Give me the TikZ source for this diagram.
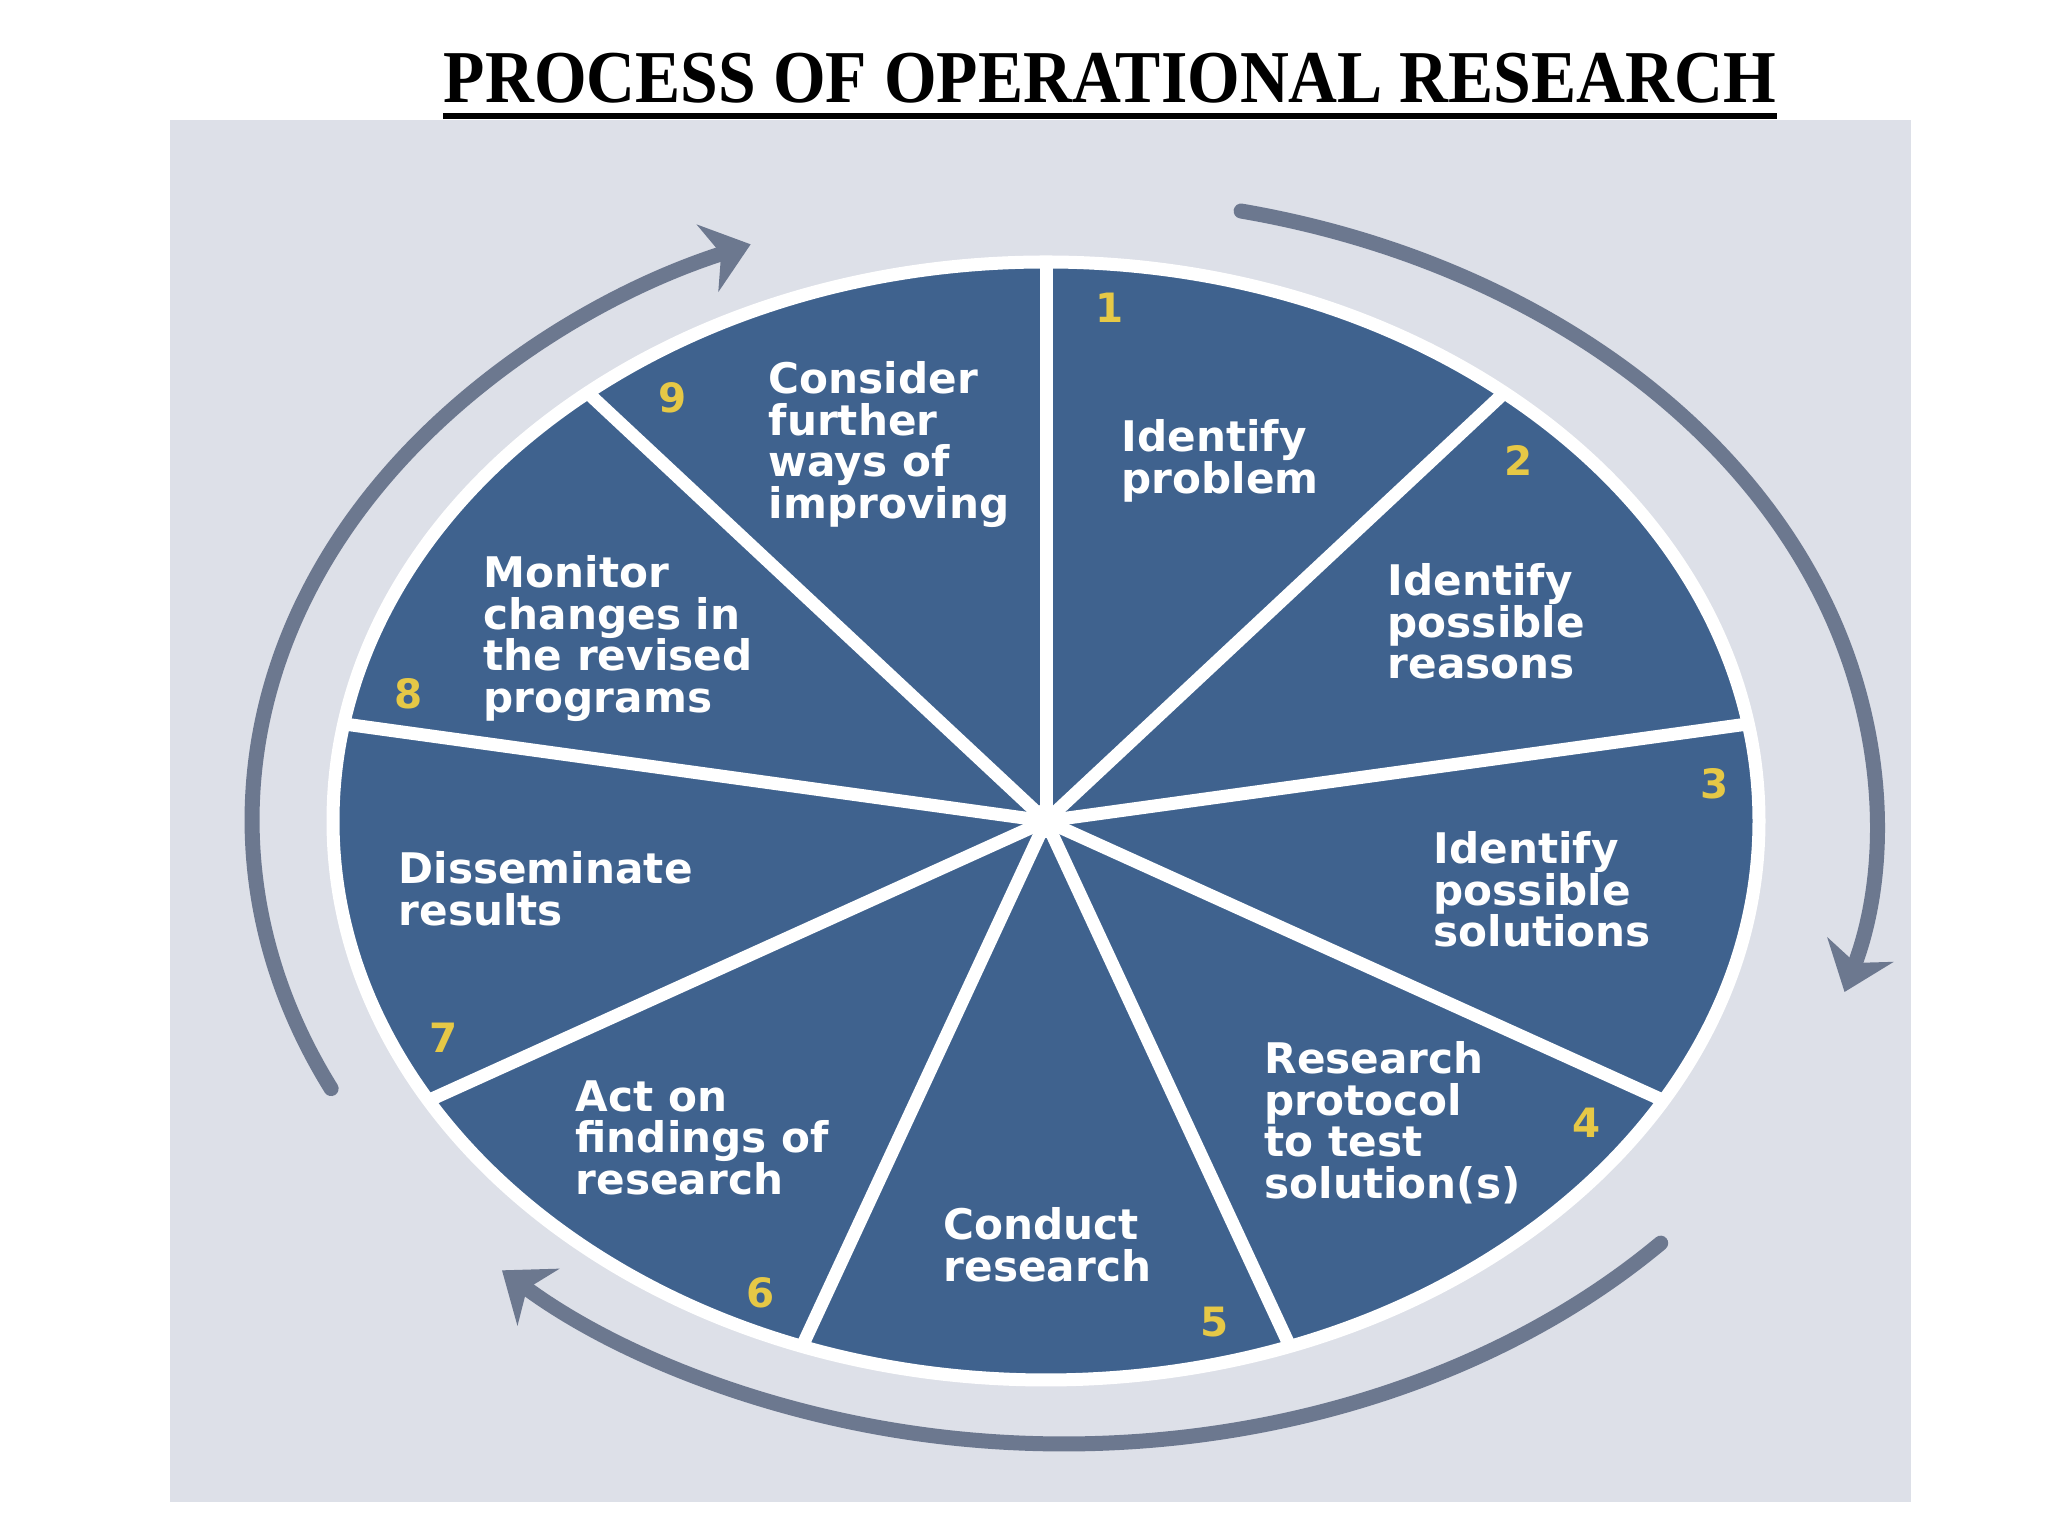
\documentclass[tikz,border=0pt]{standalone}
\usepackage{fontspec}
\usepackage{graphicx}
\setmainfont{Liberation Serif}
\newfontfamily\wheelfont{DejaVu Sans}
\usetikzlibrary{arrows.meta}
\definecolor{bggray}{RGB}{221,224,232}
\definecolor{wheelblue}{RGB}{63,98,142}
\definecolor{arcgray}{RGB}{108,120,143}
\definecolor{numyellow}{RGB}{230,200,70}

\begin{document}
\begin{tikzpicture}[
  steptext/.style={anchor=north west, align=left, inner sep=0pt, text=white,
    font=\wheelfont\bfseries\fontsize{12}{11.8}\selectfont},
  stepnum/.style={inner sep=0pt, text=numyellow,
    font=\wheelfont\bfseries\fontsize{11.5}{11.5}\selectfont},
  spoke/.style={draw=white, line width=0.13cm},
  turn/.style={draw=arcgray, line width=0.15cm, line cap=round,
    -{Stealth[length=0.45cm, width=0.7cm, inset=0.14cm]}}
]
  \useasboundingbox (0,0) rectangle (20.48,15.36);
  \fill [bggray] (1.70,0.34) rectangle (19.11,14.16);

  \node (title) at (11.10,14.33) [anchor=base, inner sep=0pt]
    {\fontsize{20.6}{24}\selectfont\bfseries\scalebox{0.935}[1.03]{PROCESS OF OPERATIONAL RESEARCH}};
  \draw [line width=1.5pt] ([yshift=-0.13cm]title.base west) -- ([yshift=-0.13cm]title.base east);

  % wheel
  \coordinate (hub) at (10.46,7.15);
  \coordinate (turnc) at (10.64,7.16);
  \draw [spoke, fill=wheelblue] (hub) ellipse [x radius=7.13, y radius=5.59];
  \draw [spoke] (hub) -- +(90:7.13 and 5.59);
  \draw [spoke] (hub) -- +(50:7.13 and 5.59);
  \draw [spoke] (hub) -- +(10:7.13 and 5.59);
  \draw [spoke] (hub) -- +(-30:7.13 and 5.59);
  \draw [spoke] (hub) -- +(-70:7.13 and 5.59);
  \draw [spoke] (hub) -- +(-110:7.13 and 5.59);
  \draw [spoke] (hub) -- +(-150:7.13 and 5.59);
  \draw [spoke] (hub) -- +(170:7.13 and 5.59);
  \draw [spoke] (hub) -- +(130:7.13 and 5.59);
  \fill [white] (hub) circle (0.17);

  % arrows round the wheel
  \draw [turn] (turnc) ++(77.4:8.12 and 6.24)
    arc [start angle=77.4, end angle=-16, x radius=8.12, y radius=6.24];
  \draw [turn] (turnc) ++(-42.7:8.12 and 6.24)
    arc [start angle=-42.7, end angle=-133.8, x radius=8.12, y radius=6.24];
  \draw [turn] (turnc) ++(205.5:8.12 and 6.24)
    arc [start angle=205.5, end angle=112.7, x radius=8.12, y radius=6.24];

  \node (s1) at (11.21,11.17) [steptext] {Identify\\problem};
  \node (s2) at (13.87,9.73) [steptext] {Identify\\possible\\reasons};
  \node (s3) at (14.33,7.05) [steptext] {Identify\\possible\\solutions};
  \node (s4) at (12.64,4.95) [steptext] {Research\\protocol\\to test\\solution(s)};
  \node (s5) at (9.43,3.29) [steptext] {Conduct\\research};
  \node (s6) at (5.75,4.56) [steptext] {Act on\\findings of\\research};
  \node (s7) at (3.98,6.85) [steptext] {Disseminate\\results};
  \node (s8) at (4.83,9.81) [steptext] {Monitor\\changes in\\the revised\\programs};
  \node (s9) at (7.68,11.75) [steptext] {Consider\\further\\ways of\\improving};

  \node (n1) at (11.10,12.28) [stepnum] {1};
  \node (n2) at (15.19,10.75) [stepnum] {2};
  \node (n3) at (17.15,7.52) [stepnum] {3};
  \node (n4) at (15.87,4.13) [stepnum] {4};
  \node (n5) at (12.15,2.14) [stepnum] {5};
  \node (n6) at (7.61,2.43) [stepnum] {6};
  \node (n7) at (4.44,4.98) [stepnum] {7};
  \node (n8) at (4.09,8.42) [stepnum] {8};
  \node (n9) at (6.73,11.38) [stepnum] {9};
\end{tikzpicture}
\end{document}
